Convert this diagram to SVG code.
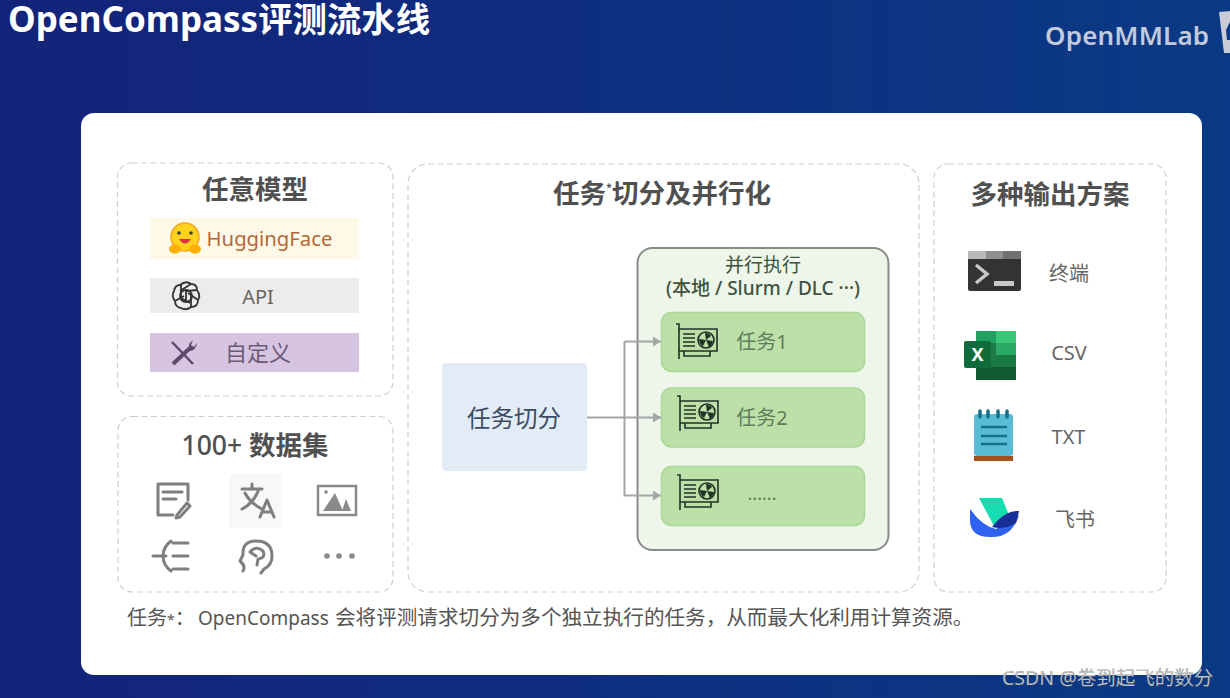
<svg xmlns="http://www.w3.org/2000/svg" width="1230" height="698" viewBox="0 0 1230 698">
<style>
text{font-family:"Noto Sans","Noto Sans CJK SC",sans-serif}
.cjk{font-family:"Noto Sans CJK SC","Noto Sans",sans-serif}
.panel{fill:#fff;stroke:#cfcfcf;stroke-width:1.2;stroke-dasharray:6 3.5}
.h{font-weight:700;fill:#505050;font-size:26.5px;text-anchor:middle}
.lbl{fill:#666;font-size:20px;text-anchor:middle}
.task{fill:#bde0a8;stroke:#a9d795;stroke-width:1.5}
.conn{fill:none;stroke:#a6a6a6;stroke-width:2}
.ic{fill:none;stroke:#7f7f7f;stroke-width:3;stroke-linecap:round;stroke-linejoin:round}
.gpu{fill:none;stroke:#1f3327;stroke-width:1.6}
</style>
<defs>
<linearGradient id="bg" x1="0" y1="0" x2="1" y2="0"><stop offset="0" stop-color="#13237a"/><stop offset="1" stop-color="#0a3a85"/></linearGradient>
<marker id="arr" markerUnits="userSpaceOnUse" markerWidth="10" markerHeight="10" refX="9" refY="5" orient="auto"><path d="M1 0L9 5L1 10Z" fill="#a6a6a6"/></marker>
<g id="gpu">
<path class="gpu" d="M0 0H3V35M3 5H41V27H3M8 27V32H34V27"/>
<path class="gpu" d="M7 10H19M7 14H19M7 18H19M7 22H19"/>
<circle class="gpu" cx="30" cy="16" r="8"/>
<path d="M30 16L29 9Q34 9 35 12ZM30 16L37 17Q36 22 33 23ZM30 16L27 22Q23 20 23 15Z" fill="#1f3327"/>
</g>
</defs>
<rect id="background" width="1230" height="698" fill="url(#bg)"/>
<text id="title" x="8" y="32" font-size="35" font-weight="700" fill="#fff">OpenCompass<tspan class="cjk" font-size="34.400">评测流水线</tspan></text>
<g id="logo">
<text x="1045" y="45" font-size="26" font-weight="600" fill="#c3cadb" letter-spacing="0.2">OpenMMLab</text>
<path d="M1219 12L1230 11V53H1224Z" fill="#c9ccd6"/>
<path d="M1226 30L1230 22V40H1227Z" fill="#0a3a85"/>
</g>
<rect id="card" x="81" y="113" width="1121" height="562" rx="13" fill="#fff"/>

<g id="models-panel">
<rect class="panel" x="117.500" y="163" width="275.500" height="233" rx="14"/>
<text class="h cjk" x="255" y="199">任意模型</text>
</g>
<g id="model-huggingface">
<rect x="150" y="218" width="209" height="41" fill="#fef8e6"/>
<circle cx="185" cy="237" r="14" fill="#ffd21e" stroke="#f5a623" stroke-width="1.500"/>
<ellipse cx="175" cy="249" rx="6" ry="4.500" fill="#ffb000"/>
<ellipse cx="195" cy="249" rx="6" ry="4.500" fill="#ffb000"/>
<circle cx="179" cy="233" r="1.800" fill="#3a3b45"/><circle cx="191" cy="233" r="1.800" fill="#3a3b45"/>
<path d="M179 239Q185 248 191 239Z" fill="#e0304a"/>
<text x="269.500" y="246" font-size="20.300" fill="#b5693a" text-anchor="middle">HuggingFace</text>
</g>
<g id="model-api">
<rect x="150" y="278" width="209" height="35" fill="#ececec"/>
<g fill="none" stroke="#333" stroke-width="1.800">
<circle cx="186" cy="296" r="6"/>
<path d="M180 285Q186 280 191 284Q197 284 197 290Q201 296 198 300Q198 307 191 307Q186 311 181 308Q175 307 175 301Q171 296 174 291Q175 285 180 285Z"/>
<path d="M181 285L181 298L190 303M191 284L180 291M197 290L186 291L186 302M198 300L188 293M191 307L191 295M175 301L184 296"/>
</g>
<text class="lbl" x="258" y="304">API</text>
</g>
<g id="model-custom">
<rect x="150" y="333" width="209" height="39" fill="#d6c4e0"/>
<path d="M172 342L193 364" fill="none" stroke="#5d4a6c" stroke-width="2.500"/>
<path d="M191 347L173 364" fill="none" stroke="#5d4a6c" stroke-width="4"/>
<path d="M189 344L193 340L191 345L194 347L197 343Q196 350 190 351Z" fill="#5d4a6c"/>
<text class="lbl cjk" x="258" y="361" style="fill:#6a5a78;font-size:22px">自定义</text>
</g>

<g id="datasets-panel">
<rect class="panel" x="118" y="416.500" width="275" height="175.500" rx="14"/>
<text class="h" x="255" y="455"><tspan font-weight="500">100+</tspan> <tspan class="cjk">数据集</tspan></text>
</g>
<g id="dataset-icons">
<rect x="229" y="474" width="52" height="54" fill="#f8f8f8"/>
<path class="ic" d="M188 500V484H158V515H173M163 492H182M163 499H176"/>
<path class="ic" d="M177 515L187 503L190 506L180 517L176 518Z" stroke-width="2.500"/>
<g class="ic" stroke-width="3"><path d="M242 489H262M252 484V489M259 489Q254 503 242 509M245 493Q250 503 262 509"/><path d="M260 517L267 500L274 517M263 512H272"/></g>
<rect x="318" y="486" width="38" height="29" fill="#fff" stroke="#8a8a8a" stroke-width="2.500"/>
<path d="M323 511L335 493L343 511Z M342 511L346 499L351 511Z" fill="#8a8a8a"/>
<circle cx="326" cy="492" r="1.800" fill="#8a8a8a"/>
<path class="ic" d="M173 543H188M173 556H188M173 569H188M153 556H166M171 541Q163 547 163 556Q163 565 171 571"/>
<path class="ic" d="M243 571Q246 566 240 561L243 555Q242 541 256 541Q272 541 272 556Q272 565 264 569L261 573" stroke-width="2.500"/>
<path class="ic" d="M250 552Q256 545 263 551Q266 558 258 559L257 565M250 552L256 556" stroke-width="2.500"/>
<circle cx="327" cy="556" r="2.800" fill="#8a8a8a"/><circle cx="339" cy="556" r="2.800" fill="#8a8a8a"/><circle cx="352" cy="556" r="2.800" fill="#8a8a8a"/>
</g>

<g id="tasks-panel">
<rect class="panel" x="408" y="164" width="511" height="428" rx="20"/>
<text class="h cjk" x="662" y="203">任务<tspan font-size="12" dy="-10">*</tspan><tspan dy="10">切分及并行化</tspan></text>
</g>
<g id="task-split">
<rect x="442" y="363" width="145" height="108" rx="4" fill="#e2ecf7"/>
<text class="cjk" x="514" y="427" font-size="23.500" fill="#3c4a63" text-anchor="middle">任务切分</text>
</g>
<g id="parallel-container">
<rect x="637.500" y="248" width="251" height="302" rx="15" fill="#eef6ea" stroke="#8a8a8a" stroke-width="2"/>
<text class="cjk" x="763" y="272" font-size="19" fill="#3d5240" text-anchor="middle">并行执行</text>
<text x="763" y="295" font-size="19" font-weight="500" fill="#3d5240" text-anchor="middle">(<tspan class="cjk">本地</tspan> / Slurm / DLC ···)</text>
</g>
<g id="task-1">
<rect class="task" x="661.500" y="312.500" width="203" height="59" rx="10"/>
<use href="#gpu" x="676" y="324"/>
<text x="762" y="349" font-size="20" fill="#5e7d5c" text-anchor="middle"><tspan class="cjk">任务</tspan>1</text>
</g>
<g id="task-2">
<rect class="task" x="661.500" y="388" width="203" height="59" rx="10"/>
<use href="#gpu" x="677" y="396"/>
<text x="762" y="425" font-size="20" fill="#5e7d5c" text-anchor="middle"><tspan class="cjk">任务</tspan>2</text>
</g>
<g id="task-3">
<rect class="task" x="661.500" y="466.500" width="203" height="59" rx="10"/>
<use href="#gpu" x="677" y="475"/>
<text x="762" y="500" font-size="18" fill="#5e7d5c" text-anchor="middle">......</text>
</g>
<g id="connectors">
<path class="conn" d="M587 417.500H661" marker-end="url(#arr)"/>
<path class="conn" d="M624.500 341.500H661" marker-end="url(#arr)"/>
<path class="conn" d="M624.500 341.500V495.500H661" marker-end="url(#arr)"/>
</g>

<g id="outputs-panel">
<rect class="panel" x="934" y="164" width="232" height="428" rx="14"/>
<text class="h cjk" x="1050" y="204">多种输出方案</text>
</g>
<g id="output-terminal">
<rect x="968" y="251" width="53" height="40" rx="2" fill="#333"/>
<rect x="968" y="251" width="18" height="8" fill="#b8b8b8"/><rect x="986" y="251" width="17" height="8" fill="#8f8f8f"/><rect x="1003" y="251" width="18" height="8" fill="#707070"/>
<path d="M976 265L987 274L976 283" fill="none" stroke="#c8c8c8" stroke-width="3.500"/>
<rect x="994" y="281" width="20" height="5" fill="#c8c8c8"/>
<text class="lbl cjk" x="1069" y="281">终端</text>
</g>
<g id="output-csv">
<rect x="976" y="331" width="40" height="49" rx="2" fill="#1e7a45"/>
<rect x="996" y="331" width="20" height="12" fill="#38c878"/>
<rect x="976" y="331" width="20" height="12" fill="#22a060"/>
<rect x="996" y="343" width="20" height="12" fill="#2ba866"/>
<rect x="996" y="355" width="20" height="12" fill="#187a40"/>
<rect x="976" y="367" width="40" height="13" fill="#0f5a30"/>
<rect x="964" y="341" width="27" height="27" rx="2" fill="#106b3a"/>
<text x="977.500" y="361" font-size="18" font-weight="700" fill="#fff" text-anchor="middle">X</text>
<text class="lbl" x="1069" y="360">CSV</text>
</g>
<g id="output-txt">
<rect x="974" y="414" width="39" height="42" rx="3" fill="#58bcd6"/>
<rect x="974" y="456" width="39" height="5" fill="#a4521a"/>
<path d="M981 427H1007M981 436H1007M981 444H1007" stroke="#15708c" stroke-width="2.500"/>
<path d="M980 411V417M988 411V417M998 411V417M1007 411V417" stroke="#15708c" stroke-width="3.500" stroke-linecap="round"/>
<text class="lbl" x="1068.500" y="444">TXT</text>
</g>
<g id="output-feishu">
<path d="M979 498H1002L1009 515L994 526Z" fill="#16dcb0"/>
<path d="M970 509Q982 526 996 529L1019 515Q1012 538 990 537Q970 537 970 520Z" fill="#2f62f0"/>
<path d="M992 527Q1005 510 1019 511L1016 523Q1005 530 992 527Z" fill="#152f96"/>
<text class="lbl cjk" x="1075" y="527">飞书</text>
</g>
<text id="footnote" x="127" y="625" font-size="19" fill="#555"><tspan class="cjk" font-size="20">任务</tspan><tspan font-size="14">*</tspan><tspan class="cjk" font-size="20">：</tspan><tspan x="198">OpenCompass</tspan><tspan class="cjk" x="335" font-size="20.600">会将评测请求切分为多个独立执行的任务，从而最大化利用计算资源。</tspan></text>
<text id="watermark" x="1002" y="685" font-size="19.500" fill="#c4c4c4" stroke="#555" stroke-width="0.200">CSDN @<tspan class="cjk">卷到起飞的数分</tspan></text>
</svg>
